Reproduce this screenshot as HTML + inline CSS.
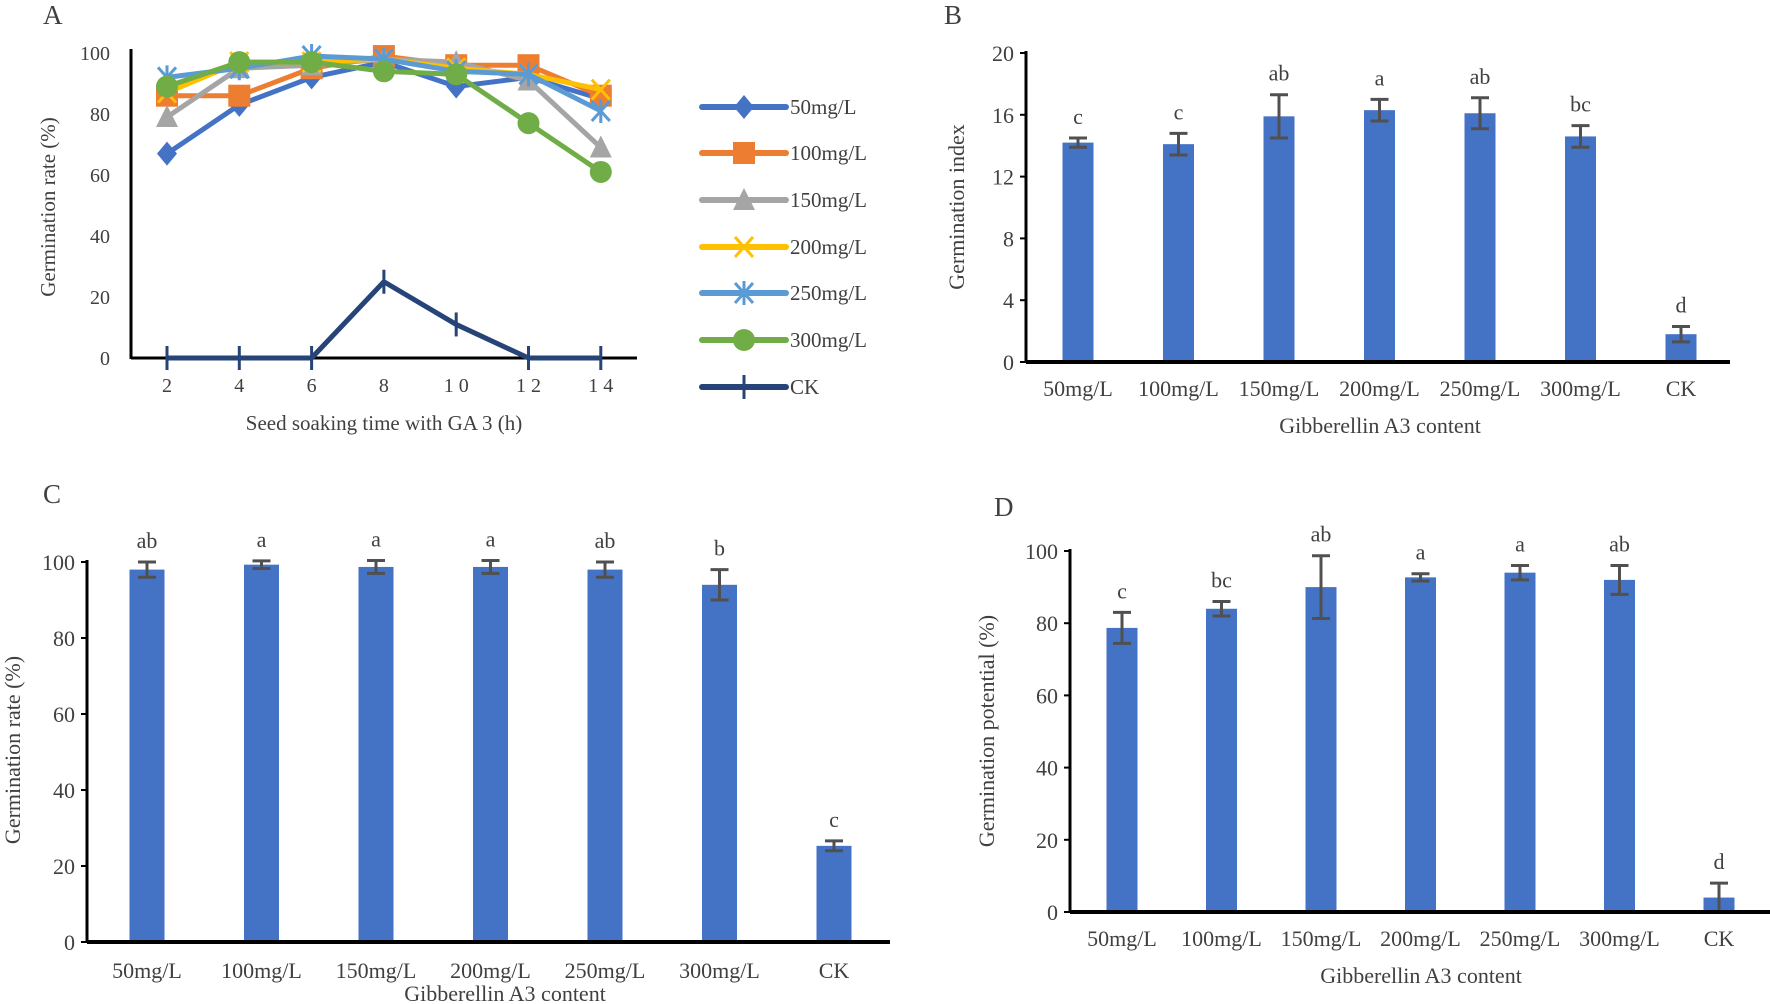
<!DOCTYPE html>
<html><head><meta charset="utf-8">
<style>
html,body{margin:0;padding:0;background:#fff;}
svg{display:block;}
text{font-family:"Liberation Serif",serif;fill:#404040;}
</style></head>
<body>
<svg id="fig" width="1770" height="1004" viewBox="0 0 1770 1004" xmlns="http://www.w3.org/2000/svg"></svg>
<script>
// ---- Panel A data ----
const timeCats = ["2","4","6","8","1 0","1 2","1 4"];
const seriesNames = ["50mg/L","100mg/L","150mg/L","200mg/L","250mg/L","300mg/L","CK"];
const s50 = [67,83,92,97,89,92,85];
const s100 = [86,86,95,99,96,96,86];
const s150 = [79,95,96,98,97,91,69];
const s200 = [87,97,97,98,95,93,88];
const s250 = [92,95,99,98,94,93,81];
const s300 = [89,97,97,94,93,77,61];
const sCK = [0,0,0,25,11,0,0];
const aTicks = [0,20,40,60,80,100];
// ---- Bar panels data ----
const concCats = ["50mg/L","100mg/L","150mg/L","200mg/L","250mg/L","300mg/L","CK"];
const bVals = [14.2,14.1,15.9,16.3,16.1,14.6,1.8];
const bErr = [0.3,0.7,1.4,0.7,1.0,0.7,0.5];
const bLetters = ["c","c","ab","a","ab","bc","d"];
const bTicks = [0,4,8,12,16,20];
const cVals = [98,99.3,98.7,98.7,98,94,25.3];
const cErr = [2,1,1.7,1.7,2,4,1.3];
const cLetters = ["ab","a","a","a","ab","b","c"];
const cTicks = [0,20,40,60,80,100];
const dVals = [78.7,84,90,92.7,94,92,4];
const dErr = [4.3,2,8.7,1,2,4,4];
const dLetters = ["c","bc","ab","a","a","ab","d"];
const dTicks = [0,20,40,60,80,100];

const NS="http://www.w3.org/2000/svg";
const svg=document.getElementById('fig');
function mk(tag,attrs,parent){const e=document.createElementNS(NS,tag);for(const k in attrs)e.setAttribute(k,attrs[k]);(parent||svg).appendChild(e);return e;}
function txt(s,x,y,size,anchor,parent,extra){const t=mk('text',Object.assign({x:x,y:y,'font-size':size,'text-anchor':anchor||'middle'},extra||{}),parent);t.textContent=s;return t;}

// ---------- Panel A ----------
(function(){
  const g=mk('g',{});
  
  
  const x0=167, dx=72.3, yZero=358, yTop=53, axL=131, axR=637;
  const X=i=>x0+i*dx, Y=v=>yZero-(v/100)*(yZero-yTop);
  const lab=txt('A',43,24,27,'start',g,{fill:'#000'});
  
  
  mk('line',{x1:axL,y1:yTop-4,x2:axL,y2:yZero+1,stroke:'#000','stroke-width':3},g);
  mk('line',{x1:axL,y1:yZero,x2:axR,y2:yZero,stroke:'#000','stroke-width':3},g);
  aTicks.forEach(v=>{const t=txt(String(v),110,Y(v)+7,20,'end',g);
    
    });
  timeCats.forEach((c,i)=>{const t=txt(c,X(i),392,20,'middle',g);
    
    });
  const xt=txt('Seed soaking time with GA 3 (h)',384,430,21,'middle',g);
  
  
  const yt=txt('Germination rate (%)',0,0,21,'middle',g,{transform:'translate(55,207) rotate(-90)'});
  
  
  const colors=['#4472C4','#ED7D31','#A5A5A5','#FFC000','#5B9BD5','#70AD47','#264478'];
  const shapes=['diamond','square','triangle','x','star','circle','plus'];
  const data=[s50,s100,s150,s200,s250,s300,sCK];
  function marker(shape,x,y,col,parent){
    if(shape==='diamond')return mk('polygon',{points:`${x},${y-12} ${x+10},${y} ${x},${y+12} ${x-10},${y}`,fill:col},parent);
    if(shape==='square')return mk('rect',{x:x-11,y:y-11,width:22,height:22,fill:col},parent);
    if(shape==='triangle')return mk('polygon',{points:`${x},${y-12} ${x+11},${y+10} ${x-11},${y+10}`,fill:col},parent);
    if(shape==='circle')return mk('circle',{cx:x,cy:y,r:11,fill:col},parent);
    if(shape==='x')return mk('path',{d:`M${x-9},${y-10}L${x+9},${y+10}M${x+9},${y-10}L${x-9},${y+10}`,stroke:col,'stroke-width':3,fill:'none'},parent);
    if(shape==='star')return mk('path',{d:`M${x-9},${y-10}L${x+9},${y+10}M${x+9},${y-10}L${x-9},${y+10}M${x},${y-12}L${x},${y+12}`,stroke:col,'stroke-width':3,fill:'none'},parent);
    return mk('path',{d:`M${x},${y-12}L${x},${y+12}`,stroke:col,'stroke-width':3,fill:'none'},parent);
  }
  const legY=[107,153,200,247,293,340,387];
  data.forEach((arr,si)=>{
    const sg=mk('g',{},g);
    
    
    const pts=arr.map((v,i)=>X(i)+','+Y(v)).join(' ');
    mk('polyline',{points:pts,fill:'none',stroke:colors[si],'stroke-width':5,'stroke-linejoin':'round'},sg);
    arr.forEach((v,i)=>{const m=marker(shapes[si],X(i),Y(v),colors[si],sg);
      
      });
    const lg=mk('g',{},g);
    
    
    mk('line',{x1:702,y1:legY[si],x2:786,y2:legY[si],stroke:colors[si],'stroke-width':6,'stroke-linecap':'round'},lg);
    marker(shapes[si],744,legY[si],colors[si],lg);
    txt(seriesNames[si],790,legY[si]+7,21,'start',lg);
  });
})();

// ---------- Bar panels ----------
function barPanel(o){
  const g=mk('g',{});
  
  
  const Y=v=>o.yZero-(v/o.max)*(o.yZero-o.yTop);
  const lab=txt(o.label,o.labX,o.labY,27,'start',g,{fill:'#000'});
  
  
  mk('line',{x1:o.axL,y1:o.yTop-2,x2:o.axL,y2:o.yZero,stroke:'#000','stroke-width':3},g);
  o.ticks.forEach(v=>{
    mk('line',{x1:o.axL-6,y1:Y(v),x2:o.axL,y2:Y(v),stroke:'#000','stroke-width':2},g);
    const t=txt(String(v),o.axL-12,Y(v)+8,22,'end',g);
    
    
  });
  o.vals.forEach((v,i)=>{
    const cx=o.centers0+i*o.step;
    const b=mk('rect',{x:cx-o.bw/2,y:Y(v),width:o.bw,height:o.yZero-Y(v),fill:'#4472C4'},g);
    
    
    const e=o.err[i], yt=Y(v+e), yb=Y(Math.max(0,v-e));
    const eg=mk('g',{stroke:'#505050','stroke-width':3},g);
    
    
    mk('line',{x1:cx,y1:yt,x2:cx,y2:yb},eg);
    mk('line',{x1:cx-9,y1:yt,x2:cx+9,y2:yt},eg);
    if(v-e>0)mk('line',{x1:cx-9,y1:yb,x2:cx+9,y2:yb},eg);
    const lt=txt(o.letters[i],cx,yt-14,22,'middle',g,{fill:'#000'});
    
    
    const cl=txt(concCats[i],cx,o.catY,22,'middle',g);
    
    
  });
  mk('line',{x1:o.axL,y1:o.yZero,x2:o.axR,y2:o.yZero,stroke:'#000','stroke-width':4},g);
  const xt=txt('Gibberellin A3 content',o.titleX,o.titleY,22,'middle',g);
  
  
  const yt=txt(o.ytitle,0,0,22,'middle',g,{transform:`translate(${o.ytX},${o.ytY}) rotate(-90)`});
  
  
}
barPanel({name:'panel-b-germination-index',label:'B',labX:944,labY:24,axL:1026,axR:1730,yZero:362,yTop:53,max:20,ticks:bTicks,
  vals:bVals,err:bErr,letters:bLetters,centers0:1078,step:100.5,bw:31,catY:396,titleX:1380,titleY:433,ytitle:'Germination index',ytX:964,ytY:207});
barPanel({name:'panel-c-germination-rate',label:'C',labX:43,labY:503,axL:87,axR:890,yZero:942,yTop:562,max:100,ticks:cTicks,
  vals:cVals,err:cErr,letters:cLetters,centers0:147,step:114.5,bw:35,catY:978,titleX:505,titleY:1001,ytitle:'Germination rate (%)',ytX:20,ytY:750});
barPanel({name:'panel-d-germination-potential',label:'D',labX:994,labY:516,axL:1070,axR:1770,yZero:912,yTop:551,max:100,ticks:dTicks,
  vals:dVals,err:dErr,letters:dLetters,centers0:1122,step:99.5,bw:31,catY:946,titleX:1421,titleY:983,ytitle:'Germination potential (%)',ytX:994,ytY:731});
</script>
</body></html>
